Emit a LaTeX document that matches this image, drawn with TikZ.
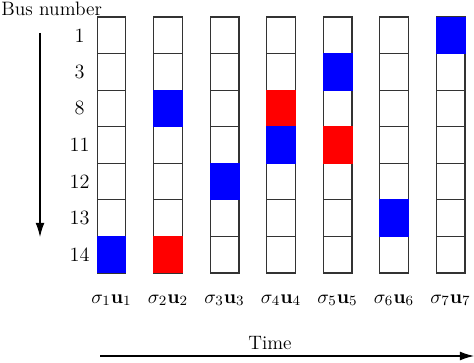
\documentclass[tikz,border=0pt]{standalone}
\usetikzlibrary{arrows.meta}
\begin{document}
\begin{tikzpicture}[
    x=0.5669pt,
    y={(0pt,-0.5669pt)},
    font=\fontsize{11}{13}\selectfont,
    >={Latex[length=8pt,width=5pt]},
    cell/.style={draw=black!80, line width=0.6pt, minimum width=16.4pt, minimum height=20.73pt, inner sep=0pt, outer sep=0pt},
    hit/.style={fill=#1, minimum width=17pt, minimum height=21.2pt, inner sep=0pt, outer sep=0pt}
  ]
  \useasboundingbox (0,0) rectangle (474,363);

  % --- BUS NUMBERS ---
  \node[anchor=base west, inner sep=0pt] (bus) at (1,16) {Bus number};
  \foreach \b [count=\j] in {1,3,8,11,12,13,14}
    \node[font=\fontsize{11.5}{13}\selectfont] (bus-\j) at (79.5,{17+36.57*(\j-0.5)}) {\b};

  % --- TIME SLOTS ---
  \foreach \i in {1,...,7}{
    \foreach \j in {1,...,7}
      \node[cell] (c-\i-\j) at ({111.5+56.5*(\i-1)},{17+36.57*(\j-0.5)}) {};
    \node[anchor=base] (slot-\i) at ({111.5+56.5*(\i-1)},303) {$\sigma_{\i}\mathbf{u}_{\i}$};
  }

  % --- ACTIVE BUSES ---
  \foreach \i/\j/\c in {1/7/blue, 2/3/blue, 2/7/red, 3/5/blue, 4/3/red,
                        4/4/blue, 5/2/blue, 5/4/red, 6/6/blue, 7/1/blue}
    \node[hit=\c] (h-\i-\j) at (c-\i-\j) {};

  % --- AXES ---
  \coordinate (down-start) at (40,33);
  \coordinate (down-end) at (40,237);
  \draw[->, line width=0.6pt] (down-start) -- (down-end);

  \node[anchor=base] (time) at (270,349) {Time};
  \coordinate (time-start) at (100,356);
  \coordinate (time-end) at (474,356);
  \draw[->, line width=0.6pt] (time-start) -- (time-end);

\end{tikzpicture}
\end{document}
